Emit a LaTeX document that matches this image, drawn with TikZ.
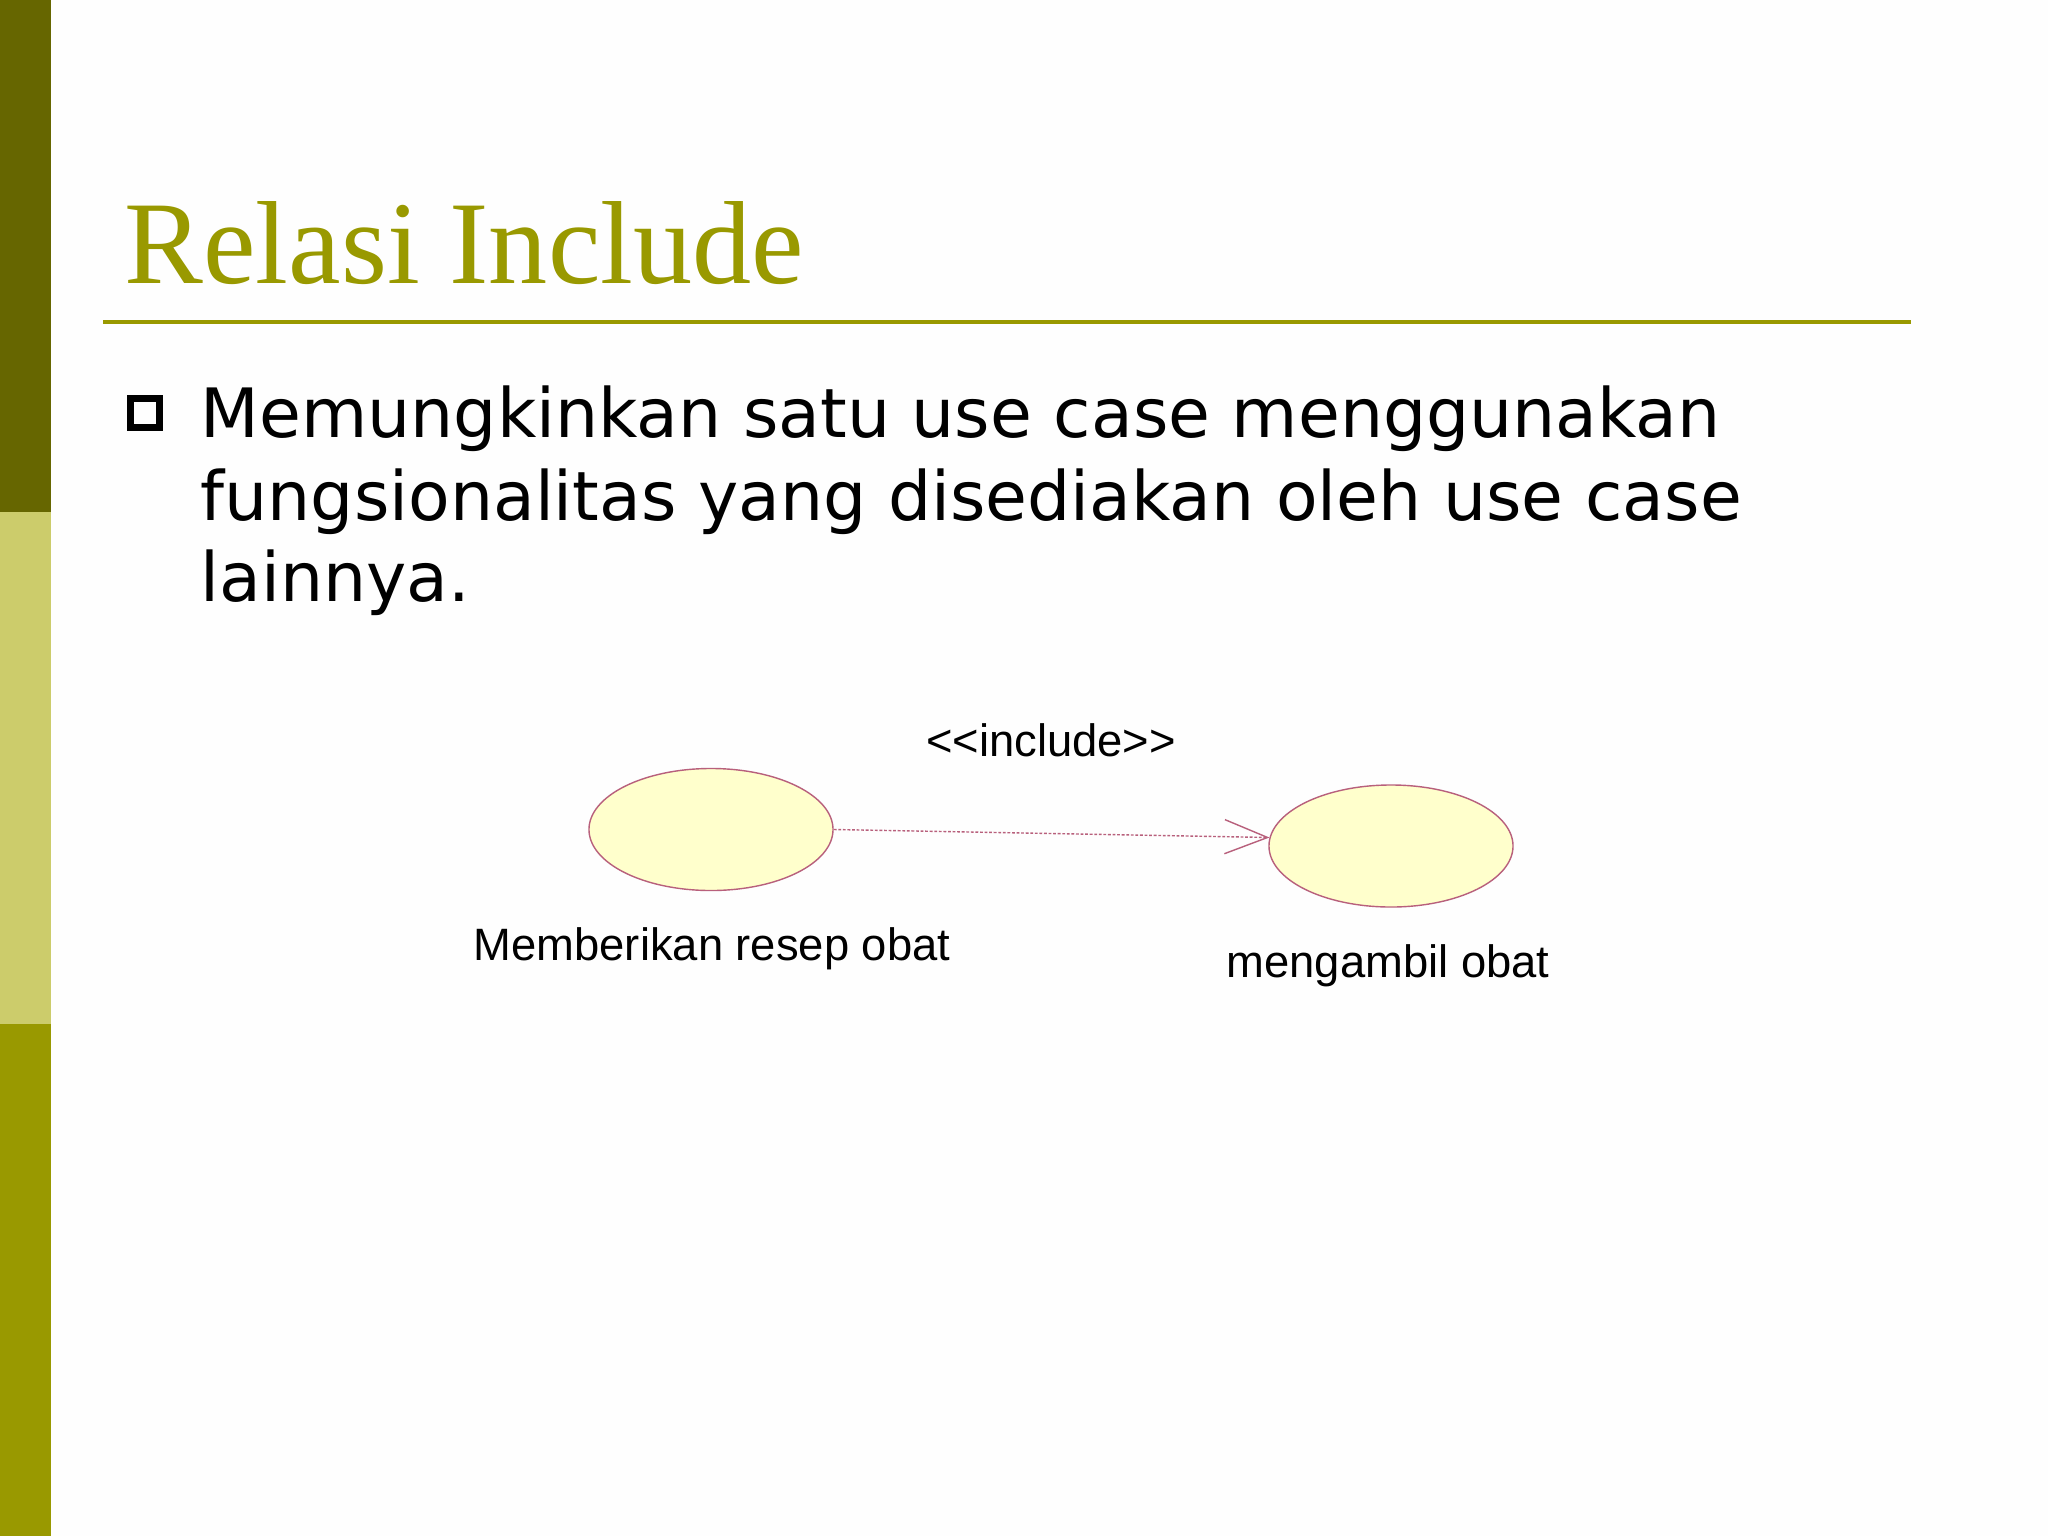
\documentclass[tikz,border=0pt]{standalone}
\usepackage{fontspec}
\setmainfont{Liberation Serif}
\newfontfamily\bodyfont{DejaVu Sans}
\newfontfamily\umlfont[Ligatures=TeXOff]{Liberation Sans}
\usetikzlibrary{shapes.geometric,arrows.meta}
\definecolor{olivedark}{HTML}{666600}
\definecolor{olivelight}{HTML}{CCCC6B}
\definecolor{olivemid}{HTML}{999900}
\definecolor{ucline}{HTML}{B8607C}
\definecolor{ucfill}{HTML}{FFFFCC}
\definecolor{pagebg}{HTML}{FEFEFE}
\tikzset{
  titletext/.style={anchor=base west, inner sep=0pt, text=olivemid, font=\fontsize{33.6}{40}\selectfont},
  bodytext/.style={anchor=base west, inner sep=0pt, font=\bodyfont\fontsize{19.35}{23}\selectfont},
  usecase/.style={ellipse, draw=ucline, fill=ucfill, line width=0.4pt, minimum width=69.4pt, minimum height=34.7pt, inner sep=0pt},
  uclabel/.style={anchor=base, inner sep=0pt, font=\umlfont\fontsize{12.9}{15}\selectfont},
  includearrow/.style={draw=ucline, line width=0.4pt, dash pattern=on 0.8pt off 0.5pt, -{Straight Barb[length=12.2pt,width=9.7pt]}}
}
\begin{document}
\begin{tikzpicture}[x=0.01cm,y=-0.01cm]
\useasboundingbox (0,0) rectangle (2048,1536);
\fill[pagebg] (0,0) rectangle (2048,1536);
% side bar
\fill[olivedark] (0,0) rectangle (51,512);
\fill[olivelight] (0,512) rectangle (51,1024);
\fill[olivemid] (0,1024) rectangle (51,1536);
% title
\node[titletext] (title) at (124,283) {Relasi Include};
\draw[olivemid, line width=1.4pt] (103,322) -- (1911,322);
% bullet
\node[draw=black, line width=2pt, minimum size=8.2pt, inner sep=0pt] (bullet) at (145,413) {};
\node[bodytext] (l1) at (200,437) {Memungkinkan satu use case menggunakan};
\node[bodytext] (l2) at (200,520) {fungsionalitas yang disediakan oleh use case};
\node[bodytext] (l3) at (200,601) {lainnya.};
% diagram
\node[usecase] (uc1) at (711,829.5) {};
\node[usecase] (uc2) at (1391,846) {};
\node[uclabel] (inc) at (1051,756) {<<include>>};
\node[uclabel] (lab1) at (712,960) {Memberikan resep obat};
\node[uclabel] (lab2) at (1388,977) {mengambil obat};
\draw[includearrow] (uc1.east) -- (uc2.176);
\end{tikzpicture}
\end{document}
